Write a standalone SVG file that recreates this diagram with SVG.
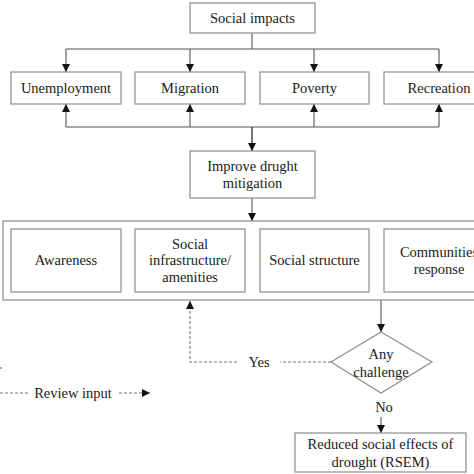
<svg xmlns="http://www.w3.org/2000/svg" width="474" height="474" viewBox="0 0 474 474">
<defs>
<style>
.box{fill:#fff;stroke:#8c8c8c;stroke-width:1.2}
.ln{fill:none;stroke:#555;stroke-width:1.1}
.dash{fill:none;stroke:#777;stroke-width:1.1;stroke-dasharray:3 2}
text{font-family:"Liberation Serif","Times New Roman",serif;font-size:14.5px;fill:#1a1a1a;text-anchor:middle}
</style>
<marker id="ah" viewBox="0 0 10 10" refX="10" refY="5" markerWidth="8" markerHeight="8" markerUnits="userSpaceOnUse" orient="auto">
<path d="M0,0 L10,5 L0,10 z" fill="#111"/>
</marker>
</defs>
<rect width="474" height="474" fill="#fff"/>
<g id="connectors">
<path class="ln" d="M252,33 V49 M66,49 H439"/>
<path class="ln" d="M66,49 V72" marker-end="url(#ah)"/>
<path class="ln" d="M190,49 V72" marker-end="url(#ah)"/>
<path class="ln" d="M314,49 V72" marker-end="url(#ah)"/>
<path class="ln" d="M439,49 V72" marker-end="url(#ah)"/>
<path class="ln" d="M66,127 H439 M252,127 V151"/>
<path class="ln" d="M66,127 V104" marker-end="url(#ah)"/>
<path class="ln" d="M190,127 V104" marker-end="url(#ah)"/>
<path class="ln" d="M314,127 V104" marker-end="url(#ah)"/>
<path class="ln" d="M439,127 V104" marker-end="url(#ah)"/>
<path class="ln" d="M252,127 V151" marker-end="url(#ah)"/>
<path class="ln" d="M252,198 V221" marker-end="url(#ah)"/>
<path class="ln" d="M381,300 V332" marker-end="url(#ah)"/>
<path class="ln" d="M381,417 V433" marker-end="url(#ah)"/>
<path class="dash" d="M331,362 H280"/>
<path class="dash" d="M237,362 H190 V301" marker-end="url(#ah)"/>
<path class="dash" d="M0,393 H28"/>
<path class="dash" d="M119,393 H150" marker-end="url(#ah)"/>
<path class="ln" d="M0,368 H2"/>
</g>
<g id="social-impacts"><rect class="box" x="190" y="3" width="125" height="30"/><text x="252.5" y="23">Social impacts</text></g>
<g id="unemployment"><rect class="box" x="11" y="72" width="110" height="32"/><text x="66" y="93">Unemployment</text></g>
<g id="migration"><rect class="box" x="135" y="72" width="110" height="32"/><text x="190" y="93">Migration</text></g>
<g id="poverty"><rect class="box" x="260" y="72" width="109" height="32"/><text x="314.5" y="93">Poverty</text></g>
<g id="recreation"><rect class="box" x="384" y="72" width="110" height="32"/><text x="439" y="93">Recreation</text></g>
<g id="improve"><rect class="box" x="190" y="151" width="125" height="47"/><text x="252.5" y="171">Improve drught</text><text x="252.5" y="188">mitigation</text></g>
<g id="container"><rect class="box" x="3" y="221" width="490" height="79"/></g>
<g id="awareness"><rect class="box" x="11" y="229" width="110" height="63"/><text x="66" y="265">Awareness</text></g>
<g id="infrastructure"><rect class="box" x="135" y="229" width="110" height="63"/><text x="190" y="249">Social</text><text x="190" y="265">infrastructure/</text><text x="190" y="282">amenities</text></g>
<g id="structure"><rect class="box" x="260" y="229" width="109" height="63"/><text x="314.5" y="265">Social structure</text></g>
<g id="communities"><rect class="box" x="384" y="229" width="110" height="63"/><text x="439" y="257">Communities</text><text x="439" y="274">response</text></g>
<g id="challenge"><path class="box" d="M381,332 L432,362 L381,393 L331,362 z"/><text x="381" y="359">Any</text><text x="381" y="377">challenge</text></g>
<g id="labels"><text x="259" y="367">Yes</text><text x="384" y="412">No</text><text x="73" y="398">Review input</text></g>
<g id="rsem"><rect class="box" x="295" y="433" width="171" height="39"/><text x="380.5" y="449">Reduced social effects of</text><text x="380.5" y="467">drought (RSEM)</text></g>
</svg>
